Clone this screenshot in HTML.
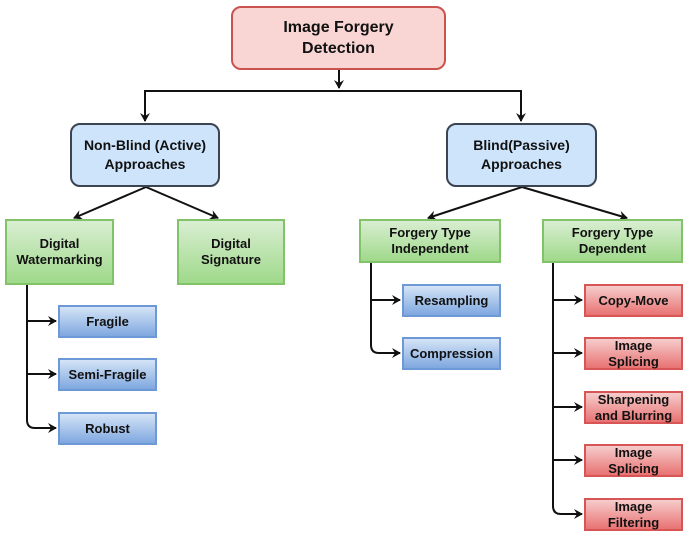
<!DOCTYPE html>
<html><head><meta charset="utf-8"><style>
body{margin:0;width:685px;height:535px;background:#fff;overflow:hidden;position:relative;font-family:"Liberation Sans",sans-serif;font-weight:bold;color:#111}
.b{position:absolute;box-sizing:border-box;display:flex;align-items:center;justify-content:center;text-align:center;line-height:16px;font-size:13px}
.g{background:linear-gradient(#d9eed2,#9fd98a);border:2px solid #82c36a}
.bl{background:linear-gradient(#d4e3f6,#7fa8e0);border:2px solid #6d9ad6}
.r{background:linear-gradient(#f6cccc,#e97272);border:2px solid #d85555}
svg{position:absolute;left:0;top:0}
</style></head><body>
<svg width="685" height="535">
<defs><marker id="a" markerWidth="10" markerHeight="10" refX="8" refY="5" orient="auto" markerUnits="userSpaceOnUse"><path d="M0,0 L9,5 L0,10 L3,5z" fill="#111"/></marker></defs>
<g stroke="#111" stroke-width="2" fill="none">
<line x1="339" y1="70" x2="339" y2="88" marker-end="url(#a)"/>
<polyline points="145,120 145,91 521,91 521,120" />
<line x1="145" y1="100" x2="145" y2="121" marker-end="url(#a)"/>
<line x1="521" y1="100" x2="521" y2="121" marker-end="url(#a)"/>
<line x1="146" y1="187" x2="74" y2="218" marker-end="url(#a)"/>
<line x1="146" y1="187" x2="218" y2="218" marker-end="url(#a)"/>
<line x1="522" y1="187" x2="428" y2="218" marker-end="url(#a)"/>
<line x1="522" y1="187" x2="627" y2="218" marker-end="url(#a)"/>
<path d="M27,285 V420 Q27,428 35,428 H56" marker-end="url(#a)"/>
<line x1="27" y1="321" x2="56" y2="321" marker-end="url(#a)"/>
<line x1="27" y1="374" x2="56" y2="374" marker-end="url(#a)"/>
<path d="M371,262 V345 Q371,353 379,353 H400" marker-end="url(#a)"/>
<line x1="371" y1="300" x2="400" y2="300" marker-end="url(#a)"/>
<path d="M553,262 V506 Q553,514 561,514 H582" marker-end="url(#a)"/>
<line x1="553" y1="300" x2="582" y2="300" marker-end="url(#a)"/>
<line x1="553" y1="353" x2="582" y2="353" marker-end="url(#a)"/>
<line x1="553" y1="407" x2="582" y2="407" marker-end="url(#a)"/>
<line x1="553" y1="460" x2="582" y2="460" marker-end="url(#a)"/>
</g></svg>
<div class="b" style="left:231px;top:6px;width:215px;height:64px;background:#f9d6d4;border:2px solid #c9544f;border-radius:10px;font-size:16px;line-height:21px">Image Forgery<br>Detection</div>
<div class="b" style="left:70px;top:123px;width:150px;height:64px;background:#cde4fb;border:2px solid #3b4450;border-radius:10px;font-size:14px;line-height:19px">Non-Blind (Active)<br>Approaches</div>
<div class="b" style="left:446px;top:123px;width:151px;height:64px;background:#cde4fb;border:2px solid #3b4450;border-radius:10px;font-size:14px;line-height:19px">Blind(Passive)<br>Approaches</div>
<div class="b g" style="left:5px;top:219px;width:109px;height:66px">Digital<br>Watermarking</div>
<div class="b g" style="left:177px;top:219px;width:108px;height:66px">Digital<br>Signature</div>
<div class="b g" style="left:359px;top:219px;width:142px;height:44px">Forgery Type<br>Independent</div>
<div class="b g" style="left:542px;top:219px;width:141px;height:44px">Forgery Type<br>Dependent</div>
<div class="b bl" style="left:58px;top:305px;width:99px;height:33px">Fragile</div>
<div class="b bl" style="left:58px;top:358px;width:99px;height:33px">Semi-Fragile</div>
<div class="b bl" style="left:58px;top:412px;width:99px;height:33px">Robust</div>
<div class="b bl" style="left:402px;top:284px;width:99px;height:33px">Resampling</div>
<div class="b bl" style="left:402px;top:337px;width:99px;height:33px">Compression</div>
<div class="b r" style="left:584px;top:284px;width:99px;height:33px">Copy-Move</div>
<div class="b r" style="left:584px;top:337px;width:99px;height:33px">Image<br>Splicing</div>
<div class="b r" style="left:584px;top:391px;width:99px;height:33px">Sharpening<br>and Blurring</div>
<div class="b r" style="left:584px;top:444px;width:99px;height:33px">Image<br>Splicing</div>
<div class="b r" style="left:584px;top:498px;width:99px;height:33px">Image<br>Filtering</div>
</body></html>
